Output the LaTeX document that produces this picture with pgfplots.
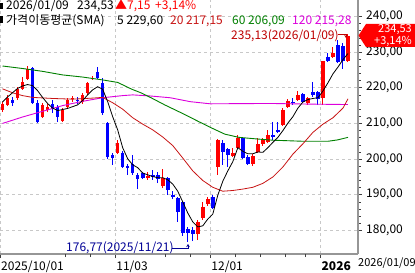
\documentclass[border=0pt]{standalone}
\usepackage{fontspec}
\setmainfont{Noto Sans CJK KR}
\usepackage{pgfplots}
\pgfplotsset{compat=1.18}
\usepackage{pgfplotstable}
\usetikzlibrary{arrows.meta}

\definecolor{cup}{RGB}{255,0,0}
\definecolor{cdn}{RGB}{0,0,255}
\definecolor{ma20}{RGB}{200,20,20}
\definecolor{ma60}{RGB}{0,128,0}
\definecolor{ma120}{RGB}{220,0,220}
\definecolor{hilab}{RGB}{190,0,0}
\definecolor{lolab}{RGB}{0,0,150}
\definecolor{gridc}{RGB}{200,200,200}
\definecolor{axc}{RGB}{150,150,150}
\newcommand\fs{\fontsize{12bp}{14bp}\selectfont}
\newcommand\fss{\fontsize{11bp}{13bp}\selectfont}

% up (red) candles: index open high low close
\pgfplotstableread{
i o h l c
0 213.8 216.0 213.2 215.5
1 215.2 218.0 214.9 217.2
3 217.2 220.2 216.6 219.7
4 219.7 223.0 219.4 221.6
5 222.5 226.1 222.2 225.3
8 211.8 215.7 211.5 215.2
9 213.8 215.5 213.2 214.6
12 210.7 214.4 210.4 213.8
13 214.6 217.2 214.1 216.6
14 216.9 217.7 216.0 217.2
16 216.0 218.6 215.5 218.0
17 218.6 221.6 218.0 221.4
18 222.5 223.3 222.2 222.8
23 201.7 205.4 201.5 204.5
29 194.7 196.4 194.2 195.3
32 192.5 197.3 191.9 194.7
39 179.0 183.0 177.3 182.4
40 183.5 188.0 183.0 186.6
41 187.4 189.4 186.9 188.8
43 197.8 205.5 195.6 205.4
46 200.9 203.1 200.6 201.7
47 203.1 206.8 202.9 205.9
50 198.6 201.5 198.1 200.9
51 202.0 205.9 201.7 204.3
52 204.3 205.9 203.7 205.4
53 204.8 208.2 204.5 206.8
56 209.6 214.4 209.3 213.8
57 214.6 216.9 214.4 216.3
59 216.6 219.1 216.3 218.0
61 215.8 217.4 215.2 217.2
64 217.0 227.6 215.2 227.5
66 228.6 231.4 228.4 229.8
69 227.4 235.13 227.2 234.53
}\up

% down (blue) candles
\pgfplotstableread{
i o h l c
2 216.6 217.4 214.9 215.8
6 225.6 225.8 215.5 215.8
7 215.8 216.6 210.2 210.4
10 215.5 216.6 213.0 214.1
11 214.6 215.2 210.4 211.8
15 216.6 217.4 215.5 216.3
19 224.4 225.8 222.5 222.8
20 221.4 222.8 212.4 213.0
21 210.1 210.4 200.0 200.6
22 201.2 201.7 198.4 200.3
24 201.7 202.3 197.5 197.8
25 198.1 198.7 195.6 197.5
26 198.6 201.2 195.6 196.1
27 195.6 196.1 191.6 194.4
28 196.1 196.4 194.4 194.7
30 195.6 197.0 194.2 195.0
31 195.6 196.4 193.3 194.4
33 194.7 195.0 190.0 191.4
34 190.0 191.1 188.8 189.4
35 189.1 189.4 182.4 185.2
36 188.0 188.3 178.5 179.3
37 180.4 181.0 176.77 179.3
38 180.1 181.0 177.0 179.0
42 189.4 190.0 186.0 186.3
44 204.5 205.4 198.4 202.0
45 202.9 203.1 197.8 201.2
48 205.9 206.2 200.0 200.3
49 200.6 201.2 198.4 198.6
54 206.8 210.4 205.4 206.2
55 208.2 210.4 207.3 207.6
58 216.0 217.2 215.2 215.7
60 218.3 218.6 215.8 216.0
62 218.8 221.6 217.4 218.0
63 218.8 219.1 215.2 216.9
65 228.6 229.8 227.2 227.5
67 232.0 233.4 227.0 227.2
68 231.7 232.6 225.3 227.38
}\down

% 5-day moving average (black)
\pgfplotstableread{
i v
0 216.0
1 217.4
2 218.6
3 219.8
4 220.5
5 220.9
6 220.6
7 219.2
8 217.3
9 215.6
10 214.3
11 213.6
12 213.9
13 214.2
14 214.7
15 215.2
16 216.4
17 218.0
18 219.4
19 220.3
20 219.6
21 216.1
22 211.9
23 208.2
24 203.2
25 200.1
26 198.4
27 197.6
28 196.1
29 195.6
30 195.1
31 194.8
32 194.8
33 194.2
34 193.0
35 191.0
36 188.0
37 184.9
38 182.4
39 181.0
40 181.3
41 183.2
42 184.6
43 189.9
44 193.8
45 196.7
46 199.3
47 203.2
48 202.2
49 201.5
50 201.5
51 202.0
52 201.9
53 203.2
54 204.7
55 206.1
56 208.0
57 210.1
58 211.9
59 214.3
60 216.0
61 216.7
62 217.0
63 217.2
64 219.1
65 221.4
66 223.9
67 225.8
68 227.9
69 229.6
}\mafive

\begin{document}
\begin{tikzpicture}
\useasboundingbox (0,0) rectangle (415bp,273bp);
\clip (0,0) rectangle (415bp,273bp);
\fill[white] (0,0) rectangle (415bp,273bp);
\begin{axis}[
  at={(0bp,19bp)}, anchor=south west,
  scale only axis, width=358bp, height=254bp,
  xmin=-0.5, xmax=71.0, ymin=173.4, ymax=244.6,
  axis x line*=bottom, axis y line*=right,
  axis line style={axc, line width=1.5bp},
  xtick={-0.5,22.5,41.5,63.5},
  xticklabels={2025/10/01,11/03,12/01,\textbf{2026}},
  extra x ticks={12.5,17.5,32.5,37.5,46.5,51.5,56.5,60.5},
  extra x tick labels={},
  extra x tick style={grid=none, major tick length=3bp},
  ytick={180,190,200,210,220,230,240},
  yticklabels={{180,00},{190,00},{200,00},{210,00},{220,00},{230,00},{240,00}},
  minor y tick num=4,
  tick align=outside,
  major tick length=4bp, minor tick length=2.5bp,
  tick style={black!75, line width=0.6bp},
  xmajorgrids, ymajorgrids,
  major grid style={gridc, dash pattern=on 3bp off 3bp, line width=0.6bp},
  xticklabel style={font=\fs, anchor=north west, inner sep=0pt, xshift=1bp, yshift=-3bp},
  yticklabel style={font=\fs, anchor=west, inner sep=0pt, xshift=4bp},
]
% wicks
\addplot[draw=none, mark=none, forget plot, error bars/.cd, y dir=plus, y explicit, error mark=none,
  error bar style={draw=cup, line width=1bp, solid}]
  table[x=i, y=l, y error plus expr={\thisrow{h}-\thisrow{l}}] {\up};
\addplot[draw=none, mark=none, forget plot, error bars/.cd, y dir=plus, y explicit, error mark=none,
  error bar style={draw=cdn, line width=1bp, solid}]
  table[x=i, y=l, y error plus expr={\thisrow{h}-\thisrow{l}}] {\down};
% bodies
\addplot[draw=none, mark=none, forget plot, error bars/.cd, y dir=plus, y explicit, error mark=none,
  error bar style={draw=cup, line width=3.6bp, solid}]
  table[x=i, y=o, y error plus expr={\thisrow{c}-\thisrow{o}}] {\up};
\addplot[draw=none, mark=none, forget plot, error bars/.cd, y dir=plus, y explicit, error mark=none,
  error bar style={draw=cdn, line width=3.6bp, solid}]
  table[x=i, y=c, y error plus expr={\thisrow{o}-\thisrow{c}}] {\down};
% moving averages
\addplot[ma120, line width=0.9bp, mark=none] coordinates {
(0,210.0) (4,211.8) (8,213.4) (12,215.0) (16,216.2) (20,217.2) (24,217.8) (26,218.0)
(29.5,217.7) (33.5,217.2) (37.5,216.1) (41.5,215.5) (53.5,215.6) (62,215.4) (69,215.3)};
\addplot[ma60, line width=0.9bp, mark=none] coordinates {
(0,226.1) (4,225.4) (8,224.6) (12,223.6) (16,223.0) (20,222.2) (23,221.5) (25.8,219.6)
(27.8,218.5) (29.8,217.1) (32.4,215.2) (35.8,212.9) (39.2,210.5) (41.8,208.7) (44.4,207.0)
(47.2,206.1) (51.2,205.6) (54,205.3) (60,205.0) (65,205.0) (67,205.4) (69,206.1)};
\addplot[ma20, line width=0.8bp, mark=none] coordinates {
(0,219.7) (2,218.6) (4,217.8) (6,217.3) (10,217.0) (14,216.8) (18,217.1) (20,217.3)
(22,215.8) (24,214.0) (26,211.6) (28,209.8) (30,208.2) (32,206.2) (34,203.8) (36,200.3)
(38,196.7) (40,194.0) (42,192.1) (44,191.0) (46,191.2) (48,191.6) (50,192.1) (52,193.2)
(54,195.0) (56,197.8) (58,201.4) (60,204.3) (62,207.5) (64,209.8) (66,211.6) (68,214.3) (69,216.9)};
\addplot[black, line width=0.8bp, mark=none] table[x=i, y=v] {\mafive};
\end{axis}

% header line 1
\fill[black] (0bp,264bp) rectangle (3bp,270bp);
\node[anchor=west, inner sep=0pt, font=\fs] at (6bp,267bp) {2026/01/09};
\node[anchor=west, inner sep=0pt, font=\fs] at (77bp,267bp) {234,53};
\node[anchor=west, inner sep=0pt, font=\fs, text=cup] at (115bp,267bp) {▲7,15};
\node[anchor=west, inner sep=0pt, font=\fs, text=cup] at (155bp,267bp) {+3,14\%};
% header line 2
\fill[black] (0bp,250bp) rectangle (3bp,257bp);
\node[anchor=west, inner sep=0pt, font=\fs] at (6bp,252bp) {가격이동평균(SMA)};
\node[anchor=west, inner sep=0pt, font=\fs] at (117bp,252bp) {5 229,60};
\node[anchor=west, inner sep=0pt, font=\fs, text=ma20] at (170bp,252bp) {20 217,15};
\node[anchor=west, inner sep=0pt, font=\fs, text=ma60] at (232bp,252bp) {60 206,09};
\node[anchor=west, inner sep=0pt, font=\fs, text=ma120] at (292bp,252bp) {120 215,28};

% high annotation
\node[anchor=west, inner sep=0pt, font=\fs, text=hilab] at (231bp,237.7bp) {235,13(2026/01/09)};
\draw[hilab, line width=0.7bp, -{Stealth[length=3bp,width=3.5bp]}] (337.5bp,239bp) -- (346bp,239bp) -- (346bp,235bp);
% low annotation
\node[anchor=west, inner sep=0pt, font=\fs, text=lolab] at (66bp,25.5bp) {176,77(2025/11/21)};
\draw[lolab, line width=0.7bp, -{Stealth[length=3bp,width=3.5bp]}] (172bp,25bp) -- (188bp,25bp) -- (188bp,29bp);

% current price tag
\fill[cup] (358.5bp,237.5bp) -- (366bp,249bp) -- (415bp,249bp) -- (415bp,226bp) -- (366bp,226bp) -- cycle;
\node[anchor=east, inner sep=0pt, font=\fss, text=white] at (412bp,243bp) {234,53};
\node[anchor=east, inner sep=0pt, font=\fss, text=white] at (412bp,231.5bp) {+3,14\%};

% current date at bottom right
\node[anchor=west, inner sep=0pt, font=\fss] at (358bp,10bp) {2026/01/09};
\end{tikzpicture}
\end{document}
